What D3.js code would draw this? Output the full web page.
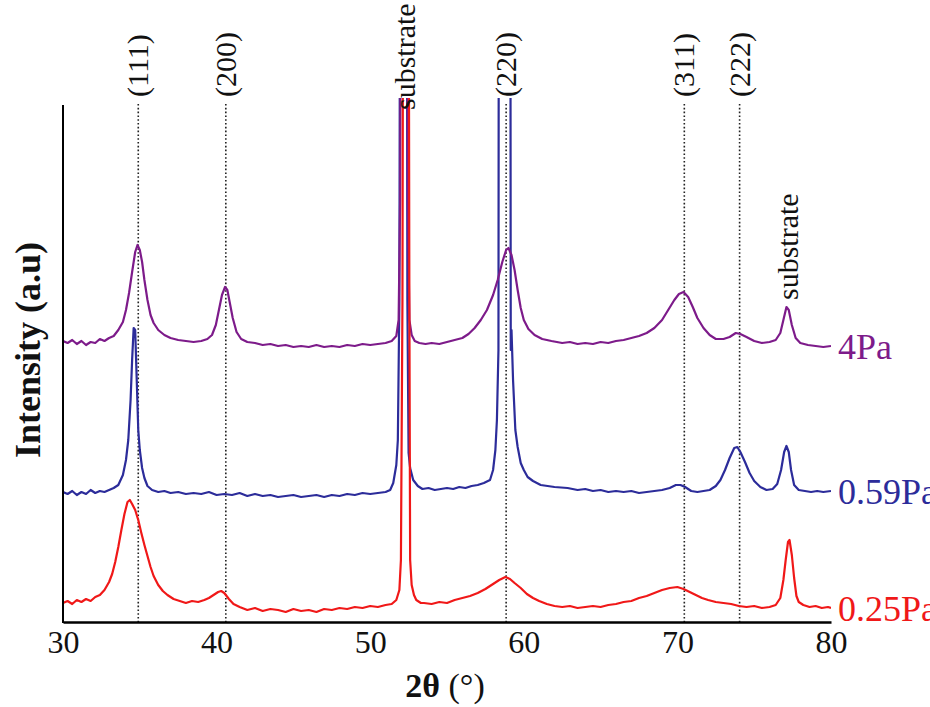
<!DOCTYPE html>
<html>
<head>
<meta charset="utf-8">
<title>XRD patterns</title>
<script src="https://d3js.org/d3.v7.min.js"></script>
<style>
  body { margin: 0; background: #fff; }
  text { font-family: "Liberation Serif", "Times New Roman", serif; fill: #111; }
</style>
</head>
<body>
<svg id="xrd" width="930" height="707"></svg>
<script>
// 2theta ticks and reflections
var xTicks = [30, 40, 50, 60, 70, 80];
var peakPos = [34.9, 40.6, 58.85, 70.45, 74.05];
var peakNames = ["(111)", "(200)", "(220)", "(311)", "(222)"];
var substratePos = [52.3, 77.2];

var seriesNames = ["4Pa", "0.59Pa", "0.25Pa"];
var seriesColors = ["#7d1b8a", "#2c2c9a", "#f01818"];

// [2theta, intensity a.u.] (stacked offsets included)
var pa4 = [[30.0,309],[30.3,307],[30.6,310],[30.9,306],[31.2,309],[31.5,305],[31.8,308],[32.1,307],[32.4,311],[32.7,309],[33.0,312],[33.3,314],[33.6,320],[33.9,328],[34.1,340],[34.3,357],[34.5,378],[34.7,398],[34.85,405],[35.0,400],[35.15,388],[35.3,370],[35.5,350],[35.7,335],[35.9,327],[36.2,320],[36.6,315],[37.0,312],[37.5,310],[38.0,309],[38.5,308],[39.0,309],[39.4,311],[39.7,315],[39.95,325],[40.15,340],[40.35,355],[40.55,363],[40.7,360],[40.85,348],[41.05,332],[41.3,318],[41.6,311],[42.0,308],[42.5,307],[43.0,305],[43.5,306],[44.0,304],[44.5,305],[45.0,303],[45.5,304],[46.0,303],[46.5,305],[47.0,303],[47.5,304],[48.0,303],[48.5,305],[49.0,304],[49.5,306],[50.0,305],[50.5,306],[51.0,307],[51.4,309],[51.7,314],[51.85,330],[51.95,450],[52.05,1200],[52.35,1200],[52.45,450],[52.55,330],[52.7,315],[52.9,309],[53.2,307],[53.6,306],[54.0,307],[54.5,306],[55.0,308],[55.5,310],[56.0,312],[56.4,316],[56.8,322],[57.2,330],[57.6,340],[58.0,355],[58.3,370],[58.6,388],[58.85,400],[59.0,402],[59.2,395],[59.4,380],[59.6,360],[59.8,342],[60.0,330],[60.3,321],[60.7,315],[61.2,311],[61.8,309],[62.5,307],[63.0,308],[63.5,306],[64.0,307],[64.5,306],[65.0,308],[65.5,307],[66.0,309],[66.5,310],[67.0,312],[67.5,314],[68.0,317],[68.5,322],[69.0,330],[69.4,340],[69.8,350],[70.1,356],[70.4,358],[70.7,353],[71.0,343],[71.3,332],[71.7,322],[72.1,315],[72.5,311],[73.0,311],[73.4,313],[73.8,317],[74.1,316],[74.5,313],[75.0,309],[75.5,307],[76.0,308],[76.4,310],[76.7,317],[76.9,330],[77.1,343],[77.25,340],[77.45,325],[77.7,312],[78.0,307],[78.5,305],[79.0,304],[79.5,303],[80.0,304]];

var pa059 = [[30.0,158],[30.3,156],[30.6,159],[30.9,155],[31.2,158],[31.5,156],[31.8,160],[32.1,157],[32.4,159],[32.7,158],[33.0,160],[33.3,162],[33.6,165],[33.9,175],[34.1,190],[34.25,210],[34.4,250],[34.5,290],[34.6,322],[34.7,320],[34.8,270],[34.9,220],[35.0,200],[35.15,182],[35.3,172],[35.5,164],[35.8,160],[36.2,158],[36.6,159],[37.0,157],[37.5,158],[38.0,156],[38.5,157],[39.0,156],[39.5,158],[40.0,155],[40.5,156],[41.0,155],[41.5,157],[42.0,154],[42.5,156],[43.0,154],[43.5,155],[44.0,153],[44.5,154],[45.0,155],[45.5,153],[46.0,154],[46.5,155],[47.0,153],[47.5,155],[48.0,154],[48.5,156],[49.0,155],[49.5,157],[50.0,156],[50.5,157],[51.0,158],[51.3,160],[51.5,167],[51.7,185],[51.8,210],[51.9,350],[52.0,1200],[52.35,1200],[52.42,350],[52.5,197],[52.6,182],[52.8,170],[53.1,164],[53.4,161],[53.8,162],[54.2,160],[54.6,161],[55.0,162],[55.4,161],[55.8,163],[56.2,162],[56.6,164],[57.0,165],[57.4,167],[57.8,170],[58.0,180],[58.15,200],[58.25,230],[58.35,300],[58.4,1200],[59.1,1200],[59.15,300],[59.2,320],[59.3,270],[59.45,220],[59.6,203],[59.8,187],[60.0,180],[60.25,173],[60.6,169],[61.1,165],[62.0,163],[62.85,162],[63.5,160],[64.0,161],[64.5,159],[65.0,160],[65.5,158],[66.0,159],[66.5,158],[67.0,159],[67.5,157],[68.0,158],[68.5,159],[69.0,160],[69.5,162],[69.9,165],[70.2,165],[70.5,163],[70.9,159],[71.3,158],[71.7,159],[72.1,160],[72.5,164],[72.8,170],[73.1,180],[73.4,192],[73.7,202],[73.9,203],[74.1,198],[74.4,188],[74.7,177],[75.0,169],[75.4,163],[75.8,160],[76.2,161],[76.5,166],[76.75,180],[76.95,198],[77.1,204],[77.25,198],[77.4,180],[77.6,165],[77.9,160],[78.3,159],[78.7,158],[79.1,159],[79.5,158],[80.0,159]];

var pa025 = [[30.0,47],[30.3,49],[30.6,46],[30.9,50],[31.2,48],[31.5,51],[31.8,49],[32.1,53],[32.4,55],[32.7,60],[33.0,68],[33.2,76],[33.4,88],[33.6,103],[33.8,120],[34.0,136],[34.2,148],[34.35,150],[34.5,146],[34.7,140],[34.9,130],[35.1,117],[35.3,105],[35.5,94],[35.7,83],[35.9,74],[36.2,65],[36.5,59],[36.8,55],[37.2,51],[37.6,49],[38.0,47],[38.4,49],[38.8,48],[39.2,50],[39.5,52],[39.8,55],[40.1,58],[40.3,59],[40.5,57],[40.8,51],[41.1,46],[41.5,43],[42.0,40],[42.5,42],[43.0,39],[43.5,41],[44.0,40],[44.5,38],[45.0,41],[45.5,39],[46.0,40],[46.5,38],[47.0,41],[47.5,40],[48.0,42],[48.5,41],[49.0,43],[49.5,42],[50.0,44],[50.5,43],[51.0,45],[51.4,46],[51.7,50],[51.9,60],[52.0,90],[52.1,350],[52.2,1200],[52.45,1200],[52.55,350],[52.6,90],[52.7,65],[52.85,55],[53.0,50],[53.3,47],[53.5,47],[54.0,46],[54.5,48],[55.0,47],[55.5,50],[56.0,52],[56.5,54],[57.0,57],[57.5,61],[58.0,66],[58.4,70],[58.8,73],[59.1,71],[59.4,67],[59.8,62],[60.2,56],[60.6,52],[61.0,49],[61.5,46],[62.0,44],[62.5,43],[63.0,44],[63.5,42],[64.0,43],[64.5,44],[65.0,43],[65.5,45],[66.0,46],[66.5,48],[67.0,49],[67.5,52],[68.0,54],[68.5,57],[69.0,60],[69.5,62],[70.0,63],[70.4,61],[70.8,58],[71.2,55],[71.6,52],[72.0,50],[72.5,48],[73.0,47],[73.5,46],[74.0,44],[74.5,43],[75.0,44],[75.5,42],[76.0,43],[76.4,45],[76.7,52],[76.9,70],[77.05,90],[77.2,108],[77.3,110],[77.45,95],[77.6,72],[77.75,54],[77.9,48],[78.2,45],[78.6,43],[79.0,44],[79.4,42],[79.8,43],[80.0,42]];

var series = [pa059, pa4, pa025];
var order = [1, 0, 2]; // colour index for each entry in series

var plotLeft = 63, plotRight = 831, plotTop = 100, plotBottom = 622;
var svg = d3.select("#xrd");

var x = d3.scaleLinear().domain([30, 80]).range([plotLeft, plotRight]);
var y = d3.scaleLinear().domain([28, 550]).range([plotBottom, plotTop]);

svg.append("clipPath").attr("id", "plotclip")
  .append("rect")
  .attr("x", plotLeft).attr("y", 98)
  .attr("width", plotRight - plotLeft).attr("height", plotBottom - 98);

// reflection markers
svg.selectAll(".ref")
  .data(peakPos)
  .enter().append("line")
  .attr("class", "ref")
  .attr("x1", function(d) { return x(d); })
  .attr("x2", function(d) { return x(d); })
  .attr("y1", 104).attr("y2", plotBottom)
  .attr("stroke", "#222")
  .attr("stroke-width", 1.6)
  .attr("stroke-dasharray", "1.6,2.2");

svg.selectAll(".refname")
  .data(peakPos)
  .enter().append("text")
  .attr("class", "refname")
  .attr("transform", function(d) { return "translate(" + x(d) + ",97) rotate(-90)"; })
  .attr("dy", "0.33em")
  .style("font-size", "30px")
  .text(function(d, i) { return peakNames[i]; });

var line = d3.line()
  .x(function(d) { return x(d[0]); })
  .y(function(d) { return y(d[1]); });

var traces = svg.append("g").attr("clip-path", "url(#plotclip)");
series.forEach(function(s, i) {
  traces.append("path")
    .datum(s)
    .attr("d", line)
    .attr("fill", "none")
    .attr("stroke", seriesColors[order[i]])
    .attr("stroke-width", 2.2)
    .attr("stroke-linejoin", "round");
});

// substrate labels
svg.append("text")
  .attr("transform", "translate(" + x(substratePos[0]) + ",110) rotate(-90)")
  .attr("dy", "0.33em")
  .style("font-size", "30px")
  .text("substrate");
svg.append("text")
  .attr("transform", "translate(" + x(substratePos[1]) + ",300) rotate(-90)")
  .attr("dy", "0.33em")
  .style("font-size", "30px")
  .text("substrate");

// axes
svg.append("line")
  .attr("x1", plotLeft).attr("x2", plotLeft)
  .attr("y1", 105).attr("y2", plotBottom + 1)
  .attr("stroke", "#000").attr("stroke-width", 2);

var xAxis = svg.append("g")
  .attr("transform", "translate(0," + plotBottom + ")")
  .call(d3.axisBottom(x).tickValues(xTicks).tickSize(0).tickPadding(8));
xAxis.select(".domain").attr("stroke", "#000").attr("stroke-width", 2.5);
xAxis.selectAll("text")
  .style("font-family", "Liberation Serif, serif")
  .style("font-size", "32px")
  .attr("fill", "#111");

// series labels at right end
var labelSeries = [pa4, pa059, pa025];
svg.selectAll(".sname")
  .data(seriesNames)
  .enter().append("text")
  .attr("class", "sname")
  .attr("x", 838)
  .attr("y", function(d, i) { var s = labelSeries[i]; return y(s[s.length - 1][1]); })
  .attr("dy", "0.36em")
  .style("font-size", "36px")
  .style("fill", function(d, i) { return seriesColors[i]; })
  .text(function(d) { return d; });

// axis titles
var xt = svg.append("text")
  .attr("x", 445).attr("y", 697)
  .attr("text-anchor", "middle")
  .style("font-size", "34px");
xt.append("tspan").style("font-weight", "bold").text("2θ");
xt.append("tspan").text(" (°)");

svg.append("text")
  .attr("transform", "translate(40,350) rotate(-90)")
  .attr("text-anchor", "middle")
  .style("font-size", "36px")
  .style("font-weight", "bold")
  .text("Intensity (a.u)");
</script>
</body>
</html>
